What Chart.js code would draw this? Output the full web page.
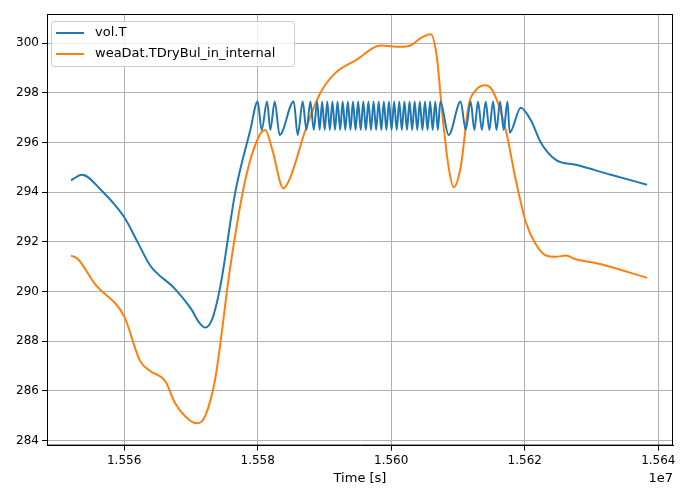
<!DOCTYPE html>
<html>
<head>
<script src="https://cdn.jsdelivr.net/npm/chart.js@4"></script>
<style>
  body { margin: 0; background: #fff; }
  #wrap { width: 690px; height: 496px; }
</style>
</head>
<body>
<div id="wrap"><canvas id="c"></canvas></div>
<script>
const seriesNames = ["vol.T", "weaDat.TDryBul_in_internal"];
const yTicks = [284, 286, 288, 290, 292, 294, 296, 298, 300];

// vol.T
const volTime = [15552050, 15553700, 15556500, 15560000, 15562000, 15563900, 15567650, 15569900, 15571400, 15572150, 15573200,
  15574400, 15576650, 15578900, 15580000, 15580600, 15581405, 15581900, 15582545, 15583300, 15585395,
  15586000, 15586745, 15587300, 15587900, 15588400, 15588905, 15589280, 15589655, 15590040, 15590425,
  15590810, 15591195, 15591580, 15591965, 15592350, 15592735, 15593120, 15593505, 15593890, 15594275,
  15594660, 15595045, 15595430, 15595815, 15596200, 15596585, 15596970, 15597355, 15597740, 15598125,
  15598510, 15598895, 15599280, 15599665, 15600050, 15600435, 15600820, 15601205, 15601590, 15601975,
  15602360, 15602745, 15603130, 15603515, 15603900, 15604285, 15604670, 15605055, 15605440, 15605825,
  15606210, 15606595, 15606980, 15607355, 15608600, 15610400, 15611150, 15611900, 15612450, 15613000,
  15613580, 15614150, 15614700, 15615245, 15615770, 15616295, 15616850, 15617405, 15617750, 15619400,
  15620900, 15622400, 15624650, 15627650, 15632900, 15638300];
const volT = [294.48, 294.7, 294.1, 293.0, 292.0, 291.05, 290.1, 289.35, 288.7, 288.55, 288.9,
  290.2, 294.0, 296.5, 297.65, 296.5, 297.65, 296.5, 297.65, 296.3, 297.65,
  296.3, 297.65, 296.5, 297.65, 296.5, 297.65, 296.5, 297.65, 296.5, 297.65,
  296.5, 297.65, 296.5, 297.65, 296.5, 297.65, 296.5, 297.65, 296.5, 297.65,
  296.5, 297.65, 296.5, 297.65, 296.5, 297.65, 296.5, 297.65, 296.5, 297.65,
  296.5, 297.65, 296.5, 297.65, 296.5, 297.65, 296.5, 297.65, 296.5, 297.65,
  296.5, 297.65, 296.5, 297.65, 296.5, 297.65, 296.5, 297.65, 296.5, 297.65,
  296.5, 297.65, 296.5, 297.65, 296.3, 297.65, 296.5, 297.65, 296.5, 297.65,
  296.5, 297.65, 296.5, 297.65, 296.5, 297.65, 296.5, 297.65, 296.4, 297.4,
  296.9, 296.0, 295.3, 295.1, 294.7, 294.3];

// weaDat.TDryBul_in_internal
const weaTime = [15552050, 15553100, 15555650, 15560000, 15562400, 15563900, 15566150, 15567650, 15569900, 15570950,
  15572150, 15573650, 15575900, 15578150, 15580100, 15581150, 15582200, 15583850, 15584900, 15587150,
  15589400, 15591650, 15594650, 15598400, 15601400, 15602900, 15604400, 15605900, 15606800, 15607700,
  15608600, 15609350, 15610400, 15611600, 15612650, 15614150, 15615350, 15617150, 15618650, 15620150,
  15621650, 15623150, 15624650, 15626150, 15627650, 15631400, 15638300];
const weaT = [291.45, 291.3, 290.3, 289.0, 287.2, 286.8, 286.4, 285.5, 284.8, 284.7,
  285.0, 286.5, 291.0, 294.5, 296.2, 296.5, 295.7, 294.15, 294.6, 296.5,
  298.0, 298.8, 299.3, 299.9, 299.85, 299.9, 300.2, 300.35, 299.5, 297.0,
  295.0, 294.2, 295.0, 297.5, 298.1, 298.3, 298.0, 296.5, 294.5, 292.8,
  291.9, 291.45, 291.4, 291.45, 291.3, 291.1, 290.55];

const colors = ["#1f77b4", "#ff7f0e"];
const toPts = (t, v) => t.map((x, i) => ({ x: x, y: v[i] }));

// legend drawn inside plot area, top left, plus frame and axis labels
const boxLegend = {
  id: "boxLegend",
  afterDraw(chart) {
    const ctx = chart.ctx;
    const a = chart.chartArea;
    ctx.save();
    ctx.strokeStyle = "#000";
    ctx.lineWidth = 1;
    ctx.strokeRect(a.left + 0.5, a.top + 0.5, a.right - a.left - 1, a.bottom - a.top - 1);
    const x0 = a.left + 4, y0 = a.top + 7;
    ctx.fillStyle = "rgba(255,255,255,0.8)";
    ctx.strokeStyle = "#cccccc";
    ctx.beginPath();
    ctx.roundRect(x0 + 0.5, y0 + 0.5, 243, 45, 3);
    ctx.fill();
    ctx.stroke();
    ctx.font = "13px 'DejaVu Sans'";
    ctx.textBaseline = "middle";
    seriesNames.forEach((n, i) => {
      const y = y0 + 12 + i * 21;
      ctx.strokeStyle = colors[i];
      ctx.lineWidth = 2;
      ctx.beginPath();
      ctx.moveTo(x0 + 5, y);
      ctx.lineTo(x0 + 33, y);
      ctx.stroke();
      ctx.fillStyle = "#000";
      ctx.fillText(n, x0 + 44, y);
    });
    ctx.textAlign = "right";
    ctx.fillText("1e7", a.right, 479);
    ctx.textAlign = "center";
    ctx.fillText("Time [s]", (a.left + a.right) / 2, 479);
    ctx.restore();
  }
};

new Chart(document.getElementById("c").getContext("2d"), {
  type: "line",
  data: {
    datasets: [
      { label: seriesNames[0], data: toPts(volTime, volT), borderColor: colors[0], borderWidth: 2,
        pointRadius: 0, cubicInterpolationMode: "monotone", fill: false },
      { label: seriesNames[1], data: toPts(weaTime, weaT), borderColor: colors[1], borderWidth: 2,
        pointRadius: 0, cubicInterpolationMode: "monotone", fill: false }
    ]
  },
  options: {
    responsive: true,
    maintainAspectRatio: false,
    animation: false,
    layout: { padding: { left: 0, right: 17, top: 14, bottom: 25 } },
    plugins: { legend: { display: false }, tooltip: { enabled: false } },
    scales: {
      x: {
        type: "linear",
        min: 15548450,
        max: 15642200,
        afterBuildTicks: (ax) => { ax.ticks = [15560000, 15580000, 15600000, 15620000, 15640000].map(v => ({ value: v })); },
        ticks: { color: "#000", font: { family: "DejaVu Sans", size: 12 }, maxRotation: 0,
          callback: (v) => (v / 1e7).toFixed(3) },
        grid: { color: "#b0b0b0", tickColor: "#000", tickLength: 5 },
        border: { color: "#000" }
      },
      y: {
        min: 283.8,
        max: 301.17,
        afterBuildTicks: (ax) => { ax.ticks = yTicks.map(v => ({ value: v })); },
        afterFit: (ax) => { ax.width = 47; },
        ticks: { color: "#000", font: { family: "DejaVu Sans", size: 12 } },
        grid: { color: "#b0b0b0", tickColor: "#000", tickLength: 5 },
        border: { color: "#000" }
      }
    }
  },
  plugins: [boxLegend]
});
</script>
</body>
</html>
